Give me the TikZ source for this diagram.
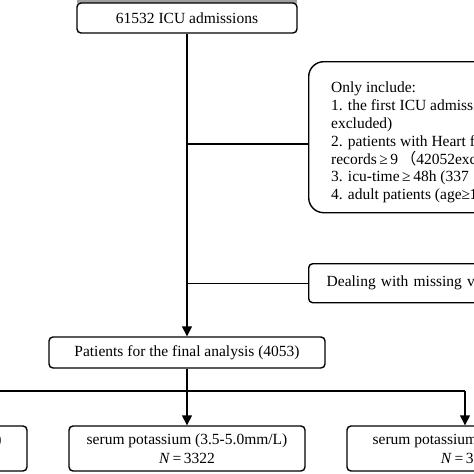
\documentclass[tikz,border=0pt]{standalone}
\usepackage{fontspec}
\setmainfont{Liberation Serif}
\newfontfamily\cjk{Noto Sans CJK SC}
\usetikzlibrary{arrows.meta}
\begin{document}
\begin{tikzpicture}[x=1pt,y=-1pt,
  font=\fontsize{15.5}{17.8}\selectfont,
  box/.style={draw, line width=1.4pt, rounded corners=4pt, inner sep=0pt},
  conn/.style={line width=1.4pt},
  arr/.style={conn, -{Triangle[width=10pt,length=10pt]}}]
\useasboundingbox (0,0) rectangle (474,474);
\clip (0,0) rectangle (474,474);
\fill[white] (0,0) rectangle (474,474);
\fill[gray!75] (77,0) rectangle (297,2.5);
% boxes
\node[box, minimum width=220pt, minimum height=30pt] (top) at (187,18) {61532 ICU admissions};
\node[box, rounded corners=15pt, anchor=north west, minimum width=330pt, minimum height=151pt] (inc) at (308,61) {};
\node[anchor=west, align=left, inner sep=0pt] (inctext) at (331,142.5)
  {Only include:\\
   1. the first ICU admission\\
   excluded)\\
   2. patients with Heart failure\\
   records\,≥\,9\,{\cjk （}42052excluded{\cjk ）}\\
   3. icu-time\,≥\,48h (337\\
   4. adult patients (age≥\textbf{18}};
\node[box, anchor=north west, minimum height=39pt, text width=214pt, inner xsep=18pt, align=left] (dea) at (308,263) {Dealing with missing values};
\node[box, minimum width=276pt, minimum height=31pt] (pat) at (187,352.5) {Patients for the final analysis (4053)};
\node[box, minimum width=236pt, minimum height=45pt, align=center] (lft) at (-91,448.5) {serum potassium (<3.5mm/L)\\[1.2pt]\phantom{N}};
\node[box, minimum width=236pt, minimum height=45pt, align=center] (mid) at (187,448.5) {serum potassium (3.5-5.0mm/L)\\[1.2pt]\textit{N}\,=\,3322};
\node[box, minimum width=236pt, minimum height=45pt, align=center] (rgt) at (465,448.5) {serum potassium (>5.0mm/L)\\[1.2pt]\textit{N}\,=\,3\phantom{00}};
% connectors
\coordinate (b1) at (187,144);
\coordinate (b2) at (187,391);
\draw[arr] (top.south) -- (pat.north);
\draw[conn] (b1) -- (b1 -| inc.west);
\draw[conn] (top.south |- dea.west) -- (dea.west);
\draw[arr] (pat.south) -- (mid.north);
\draw[arr] (b2 -| lft.north) -- (lft.north);
\draw[conn] (b2 -| lft.north) -- (b2 -| rgt.north);
\draw[arr] (b2 -| rgt.north) -- (rgt.north);
\end{tikzpicture}
\end{document}
